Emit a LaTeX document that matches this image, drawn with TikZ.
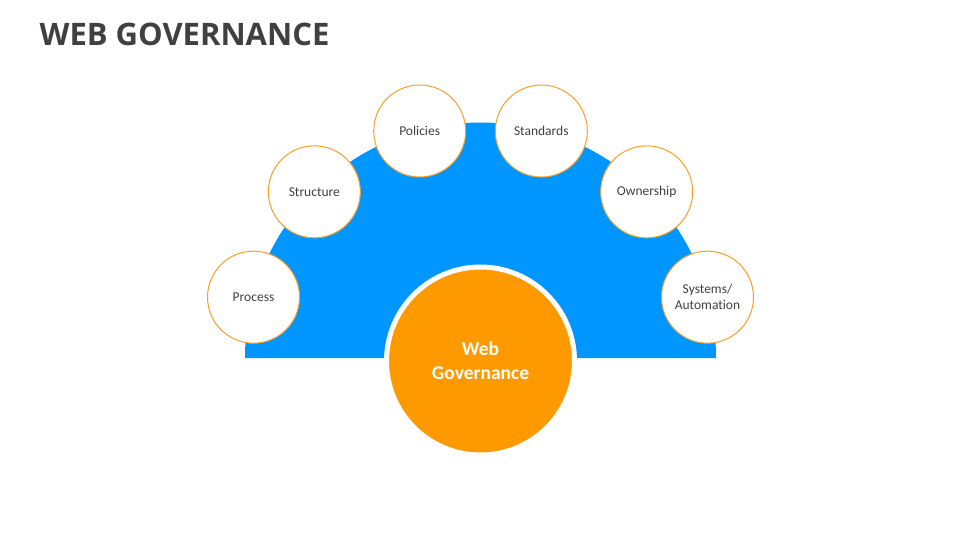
\documentclass[tikz,border=0pt]{standalone}
\usepackage{fontspec}
\usetikzlibrary{calc}
\setmainfont[Ligatures=NoCommon]{Carlito}
\newfontfamily\titlefont{Open Sans}
\definecolor{blueA}{RGB}{0,150,255}
\definecolor{orangeA}{RGB}{255,153,0}
\definecolor{ringA}{RGB}{247,160,40}
\definecolor{textA}{RGB}{64,64,64}
\begin{document}
\begin{tikzpicture}[x=1pt,y=-1pt,
  item/.style={circle,draw=ringA,line width=1pt,fill=white,minimum size=92pt,inner sep=0pt,align=center,font=\fontsize{13.5}{16}\selectfont,text=textA},
  hub/.style={circle,fill=orangeA,draw=white,line width=5pt,minimum size=188pt,inner sep=0pt,align=center,font=\fontsize{19.5}{24}\selectfont\bfseries,text=white}]
\useasboundingbox (0,0) rectangle (960,540);
\node[anchor=west,font=\titlefont\fontsize{31}{36}\selectfont\bfseries,text=textA] (title) at (36,34) {WEB GOVERNANCE};
\fill[blueA] (245,358) arc[start angle=180,end angle=360,radius=235.5] -- cycle;
\coordinate (c) at (480.5,358);
\node[hub] (hub) at (480.5,361) {Web\\Governance};
\node[item] (process) at ($(c)+(-165:235)$) {Process};
\node[item] (structure) at ($(c)+(-135:235)$) {Structure};
\node[item] (policies) at ($(c)+(-105:235)$) {Policies};
\node[item] (standards) at ($(c)+(-75:235)$) {Standards};
\node[item] (ownership) at ($(c)+(-45:235)$) {Ownership};
\node[item] (systems) at ($(c)+(-15:235)$) {Systems/\\Automation};
\end{tikzpicture}
\end{document}
